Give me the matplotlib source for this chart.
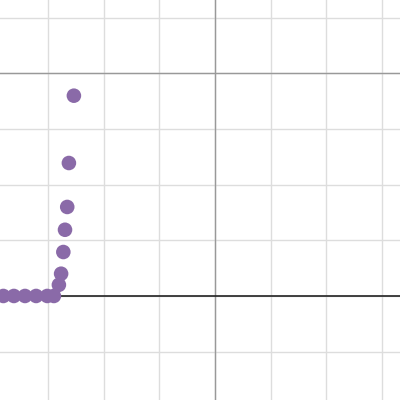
import matplotlib
matplotlib.use('Agg')
import matplotlib.pyplot as plt
import numpy as np

xs = [-3.81, -3.62, -3.42, -3.22, -3.02, -2.90, -2.81, -2.77, -2.73, -2.70, -2.66, -2.63, -2.54]
ys = [0, 0, 0, 0, 0, 0, 0.2, 0.4, 0.79, 1.19, 1.6, 2.39, 3.6]

fig = plt.figure(figsize=[4, 4], dpi=100)
ax = fig.add_axes([0, 0, 1, 1])
ax.set_xlim(-3.87, 3.33)
ax.set_ylim(-1.87, 5.32)
for gx in range(-3, 4):
    ax.axvline(gx, color='#dddddd', lw=1, zorder=0)
for gy in range(-1, 6):
    ax.axhline(gy, color='#dddddd', lw=1, zorder=0)
ax.axhline(4, color='#999999', lw=1, zorder=1)
ax.axvline(0, color='#999999', lw=1, zorder=1)
ax.axhline(0, color='#222222', lw=1.2, zorder=1)
ax.scatter(xs, ys, s=110, color='#8a6aa8', edgecolors='none', zorder=3)
ax.axis('off')
plt.savefig('out.png')
